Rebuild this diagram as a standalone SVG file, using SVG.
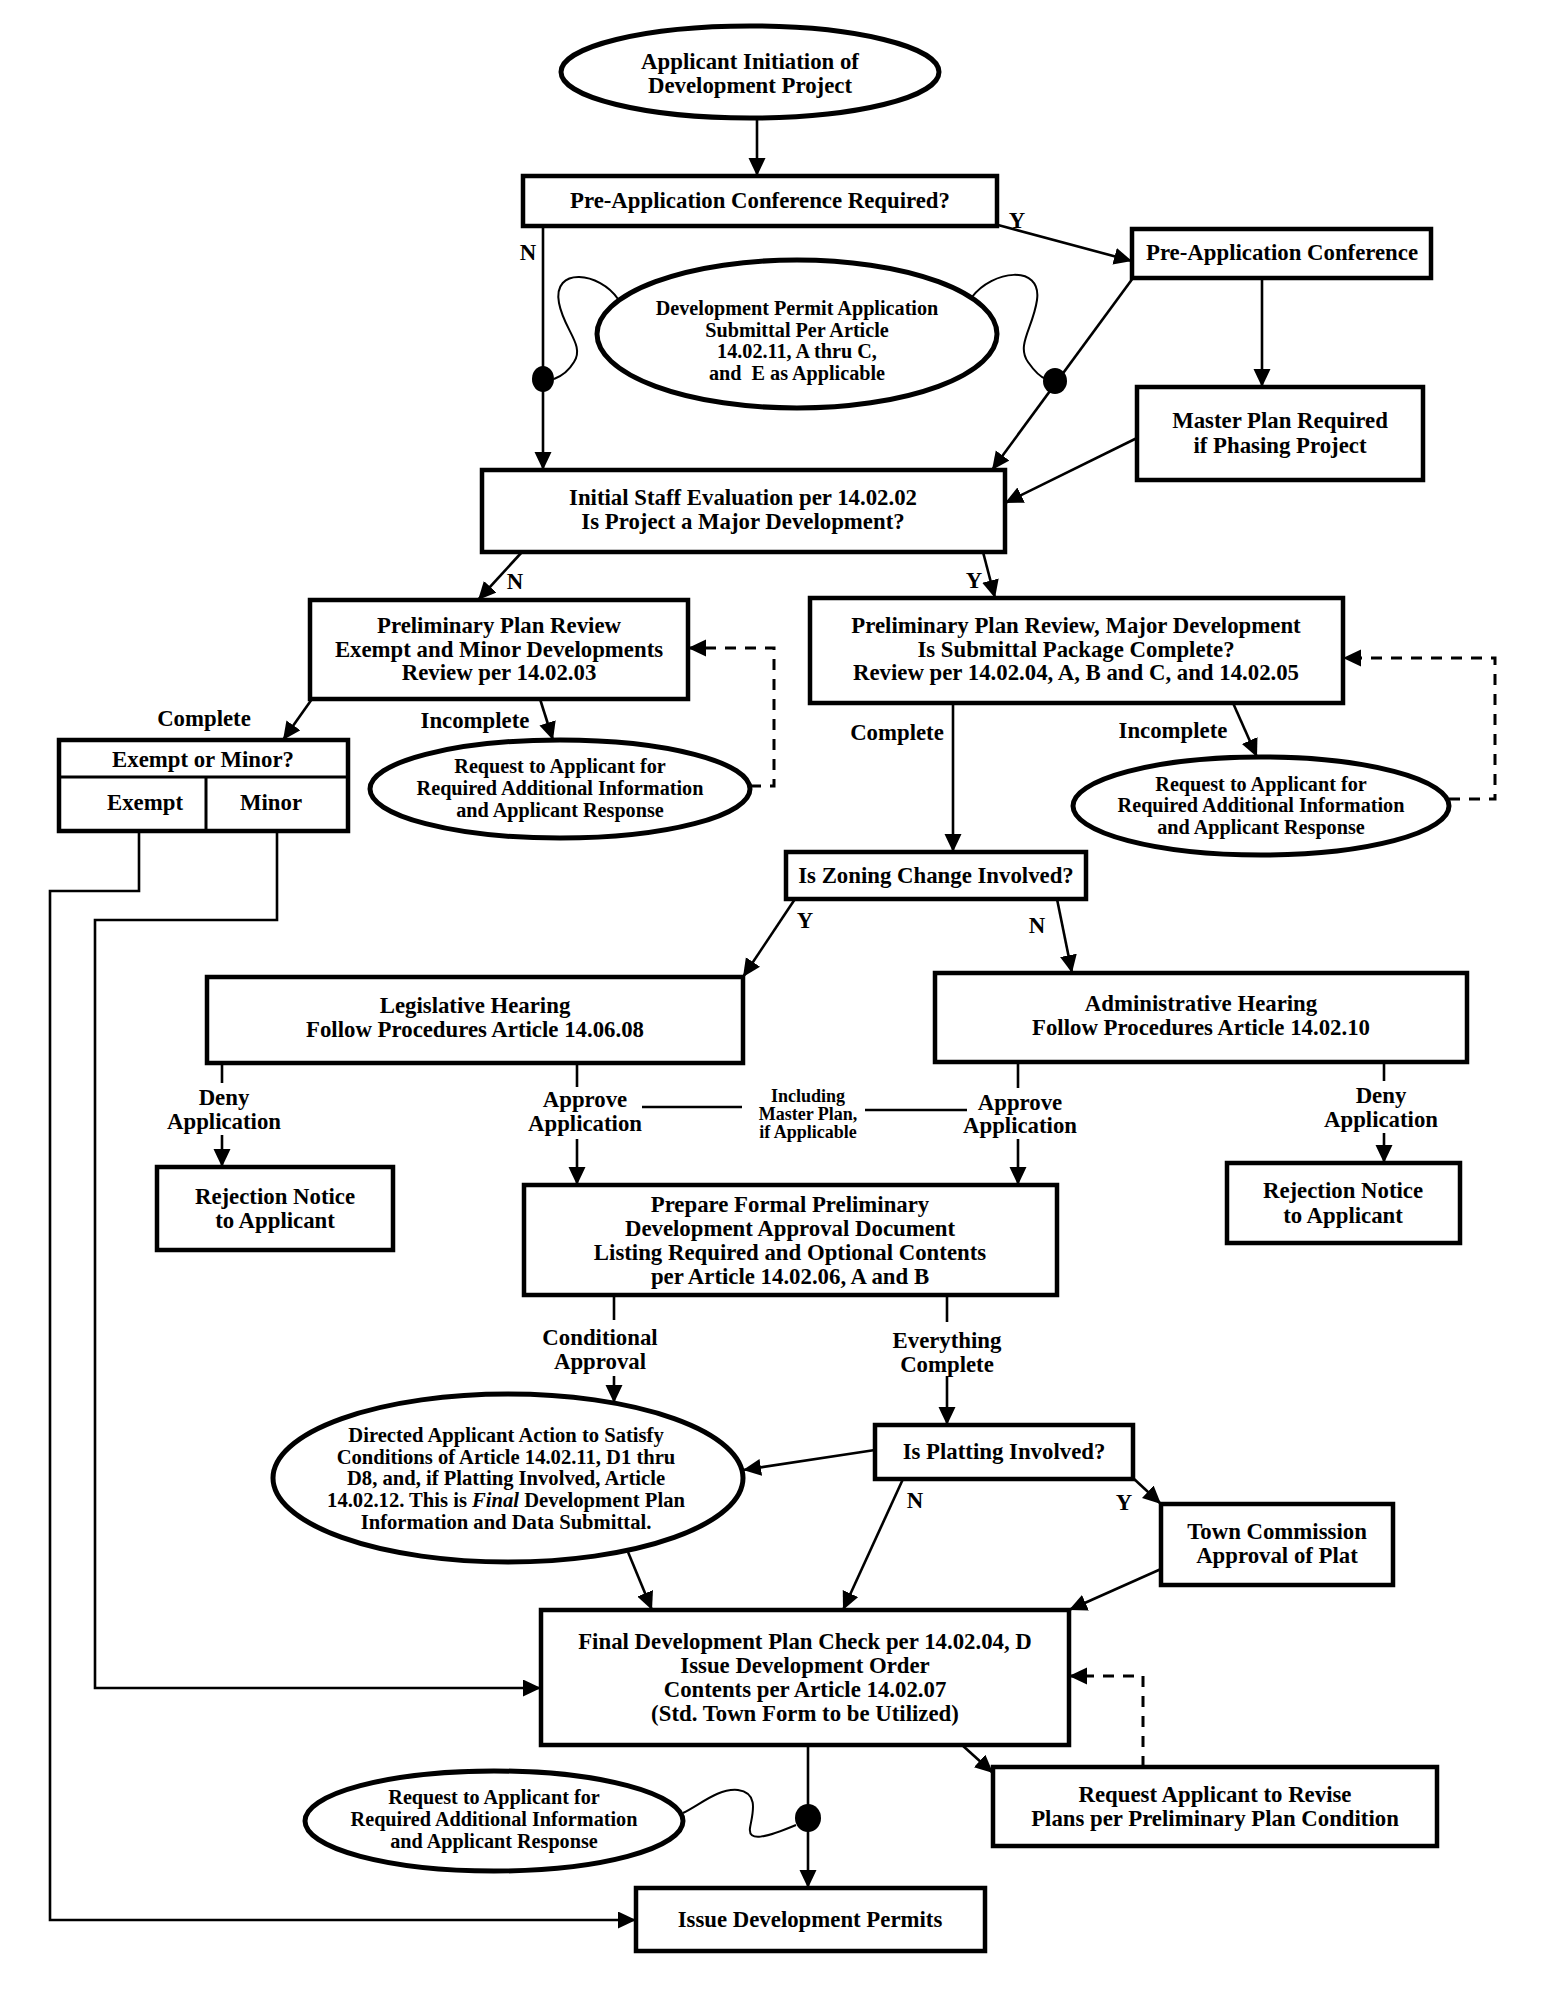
<svg xmlns="http://www.w3.org/2000/svg" width="1551" height="2000" viewBox="0 0 1551 2000">
<style>
text{font-family:"Liberation Serif","Times New Roman",serif;font-weight:bold;fill:#000;text-anchor:middle;dominant-baseline:central}
.t{font-size:22.8px}
.e{font-size:20.2px}
.d{font-size:20.6px}
.s{font-size:18px}
.box{fill:#fff;stroke:#000;stroke-width:4.5}
.ell{fill:#fff;stroke:#000;stroke-width:5}
.thin{fill:none;stroke:#000;stroke-width:2}
.c{fill:none;stroke:#000;stroke-width:2.6}
.ca{fill:none;stroke:#000;stroke-width:2.6;marker-end:url(#ah)}
.dash{fill:none;stroke:#000;stroke-width:3;stroke-dasharray:11 9;marker-end:url(#ah)}
.dot{fill:#000}
</style>
<defs>
<marker id="ah" markerUnits="userSpaceOnUse" markerWidth="21" markerHeight="19" refX="18" refY="8.5" orient="auto">
<path d="M0,0 L18,8.5 L0,17 z" fill="#000"/>
</marker>
</defs>
<rect x="0" y="0" width="1551" height="2000" fill="#fff"/>

<g id="connectors">
<path class="ca" d="M757,118 L757,176"/>
<path class="ca" d="M543,226 L543,470"/>
<path class="ca" d="M998,225 L1132,261"/>
<path class="ca" d="M1262,278 L1262,387"/>
<path class="ca" d="M1133,278 L992,470"/>
<path class="ca" d="M1137,438 L1005,503"/>
<path class="ca" d="M522,552 L478,600"/>
<path class="ca" d="M983,552 L995,598"/>
<path class="dash" d="M750,786 L774,786 L774,648 L688,648"/>
<path class="dash" d="M1449,799 L1495,799 L1495,658 L1343,658"/>
<path class="ca" d="M312,699 L283,740"/>
<path class="ca" d="M540,699 L553,740"/>
<path class="ca" d="M953,703 L953,852"/>
<path class="ca" d="M1233,703 L1257,757"/>
<path class="ca" d="M139,831 L139,891 L50,891 L50,1920 L636,1920"/>
<path class="ca" d="M277,831 L277,920 L95,920 L95,1688 L541,1688"/>
<path class="ca" d="M795,899 L743,977"/>
<path class="ca" d="M1057,899 L1072,973"/>
<path class="c" d="M222,1063 L222,1083"/>
<path class="ca" d="M222,1135 L222,1167"/>
<path class="c" d="M577,1063 L577,1087"/>
<path class="ca" d="M577,1139 L577,1185"/>
<path class="c" d="M1018,1062 L1018,1088"/>
<path class="ca" d="M1018,1139 L1018,1185"/>
<path class="c" d="M1384,1062 L1384,1081"/>
<path class="ca" d="M1384,1133 L1384,1163"/>
<path class="c" d="M642,1107 L742,1107"/>
<path class="c" d="M865,1110 L967,1110"/>
<path class="c" d="M614,1295 L614,1320"/>
<path class="ca" d="M614,1376 L614,1403"/>
<path class="c" d="M947,1295 L947,1322"/>
<path class="ca" d="M947,1376 L947,1425"/>
<path class="ca" d="M875,1450 L743,1470"/>
<path class="ca" d="M628,1552 L652,1610"/>
<path class="ca" d="M903,1479 L843,1610"/>
<path class="ca" d="M1133,1478 L1161,1504"/>
<path class="ca" d="M1161,1569 L1069,1610"/>
<path class="ca" d="M962,1745 L993,1773"/>
<path class="dash" d="M1143,1767 L1143,1676 L1069,1676"/>
<path class="ca" d="M808,1745 L808,1888"/>
<path class="thin" d="M618,299 C600,272 552,266 559,303 C564,330 585,345 574,362 C568,372 562,376 554,379"/>
<path class="thin" d="M972,297 C992,270 1042,264 1037,300 C1033,328 1016,345 1028,362 C1035,372 1040,377 1046,379"/>
<path class="thin" d="M683,1813 C700,1805 718,1788 738,1790 C760,1793 752,1815 750,1828 C748,1842 765,1838 796,1825"/>
<ellipse class="dot" cx="543" cy="379" rx="11" ry="13"/>
<ellipse class="dot" cx="1055" cy="381" rx="12" ry="13"/>
<ellipse class="dot" cx="808" cy="1818" rx="13" ry="14"/>
<text class="t" x="528" y="252">N</text>
<text class="t" x="1017" y="220">Y</text>
<text class="t" x="515" y="581">N</text>
<text class="t" x="974" y="580">Y</text>
<text class="t" x="204" y="718">Complete</text>
<text class="t" x="475" y="720">Incomplete</text>
<text class="t" x="897" y="732">Complete</text>
<text class="t" x="1173" y="730">Incomplete</text>
<text class="t" x="805" y="920">Y</text>
<text class="t" x="1037" y="925">N</text>
<text class="t" x="224" y="1097">Deny</text>
<text class="t" x="224" y="1121">Application</text>
<text class="t" x="585" y="1099">Approve</text>
<text class="t" x="585" y="1123">Application</text>
<text class="s" x="808" y="1096">Including</text>
<text class="s" x="808" y="1114">Master Plan,</text>
<text class="s" x="808" y="1132">if Applicable</text>
<text class="t" x="1020" y="1102">Approve</text>
<text class="t" x="1020" y="1125">Application</text>
<text class="t" x="1381" y="1095">Deny</text>
<text class="t" x="1381" y="1119">Application</text>
<text class="t" x="600" y="1337">Conditional</text>
<text class="t" x="600" y="1361">Approval</text>
<text class="t" x="947" y="1340">Everything</text>
<text class="t" x="947" y="1364">Complete</text>
<text class="t" x="915" y="1500">N</text>
<text class="t" x="1124" y="1502">Y</text>
</g>

<g id="n_start">
<ellipse class="ell" cx="750" cy="72" rx="189" ry="46"/>
<text class="t" x="750" y="61">Applicant Initiation of</text>
<text class="t" x="750" y="85">Development Project</text>
</g>
<g id="n_preq">
<rect class="box" x="523" y="176" width="474" height="50"/>
<text class="t" x="760" y="200">Pre-Application Conference Required?</text>
</g>
<g id="n_preconf">
<rect class="box" x="1132" y="229" width="299" height="49"/>
<text class="t" x="1282" y="252">Pre-Application Conference</text>
</g>
<g id="n_devpermit">
<ellipse class="ell" cx="797" cy="334" rx="200" ry="74"/>
<text class="e" x="797" y="308">Development Permit Application</text>
<text class="e" x="797" y="330">Submittal Per Article</text>
<text class="e" x="797" y="351">14.02.11, A thru C,</text>
<text class="e" x="797" y="373" xml:space="preserve">and  E as Applicable</text>
</g>
<g id="n_master">
<rect class="box" x="1137" y="387" width="286" height="93"/>
<text class="t" x="1280" y="420">Master Plan Required</text>
<text class="t" x="1280" y="445">if Phasing Project</text>
</g>
<g id="n_initial">
<rect class="box" x="482" y="470" width="523" height="82"/>
<text class="t" x="743" y="497">Initial Staff Evaluation per 14.02.02</text>
<text class="t" x="743" y="521">Is Project a Major Development?</text>
</g>
<g id="n_prelim_minor">
<rect class="box" x="310" y="600" width="378" height="99"/>
<text class="t" x="499" y="625">Preliminary Plan Review</text>
<text class="t" x="499" y="649">Exempt and Minor Developments</text>
<text class="t" x="499" y="672">Review per 14.02.03</text>
</g>
<g id="n_prelim_major">
<rect class="box" x="810" y="598" width="533" height="105"/>
<text class="t" x="1076" y="625">Preliminary Plan Review, Major Development</text>
<text class="t" x="1076" y="649">Is Submittal Package Complete?</text>
<text class="t" x="1076" y="672">Review per 14.02.04, A, B and C, and 14.02.05</text>
</g>
<g id="n_req_minor">
<ellipse class="ell" cx="560" cy="789" rx="190" ry="49"/>
<text class="e" x="560" y="766">Request to Applicant for</text>
<text class="e" x="560" y="788">Required Additional Information</text>
<text class="e" x="560" y="810">and Applicant Response</text>
</g>
<g id="n_req_major">
<ellipse class="ell" cx="1261" cy="806" rx="188" ry="49"/>
<text class="e" x="1261" y="784">Request to Applicant for</text>
<text class="e" x="1261" y="805">Required Additional Information</text>
<text class="e" x="1261" y="827">and Applicant Response</text>
</g>
<g id="n_exmin">
<rect class="box" x="59" y="740" width="289" height="91"/>
<path d="M59,777 L348,777 M206,777 L206,831" stroke="#000" stroke-width="3" fill="none"/>
<text class="t" x="203" y="759">Exempt or Minor?</text>
<text class="t" x="145" y="802">Exempt</text>
<text class="t" x="271" y="802">Minor</text>
</g>
<g id="n_zoning">
<rect class="box" x="786" y="852" width="300" height="47"/>
<text class="t" x="936" y="875">Is Zoning Change Involved?</text>
</g>
<g id="n_legis">
<rect class="box" x="207" y="977" width="536" height="86"/>
<text class="t" x="475" y="1005">Legislative Hearing</text>
<text class="t" x="475" y="1029">Follow Procedures Article 14.06.08</text>
</g>
<g id="n_admin">
<rect class="box" x="935" y="973" width="532" height="89"/>
<text class="t" x="1201" y="1003">Administrative Hearing</text>
<text class="t" x="1201" y="1027">Follow Procedures Article 14.02.10</text>
</g>
<g id="n_rej1">
<rect class="box" x="157" y="1167" width="236" height="83"/>
<text class="t" x="275" y="1196">Rejection Notice</text>
<text class="t" x="275" y="1220">to Applicant</text>
</g>
<g id="n_rej2">
<rect class="box" x="1227" y="1163" width="233" height="80"/>
<text class="t" x="1343" y="1190">Rejection Notice</text>
<text class="t" x="1343" y="1215">to Applicant</text>
</g>
<g id="n_prepare">
<rect class="box" x="524" y="1185" width="533" height="110"/>
<text class="t" x="790" y="1204">Prepare Formal Preliminary</text>
<text class="t" x="790" y="1228">Development Approval Document</text>
<text class="t" x="790" y="1252">Listing Required and Optional Contents</text>
<text class="t" x="790" y="1276">per Article 14.02.06, A and B</text>
</g>
<g id="n_directed">
<ellipse class="ell" cx="508" cy="1478" rx="235" ry="84"/>
<text class="d" x="506" y="1435">Directed Applicant Action to Satisfy</text>
<text class="d" x="506" y="1457">Conditions of Article 14.02.11, D1 thru</text>
<text class="d" x="506" y="1478">D8, and, if Platting Involved, Article</text>
<text class="d" x="506" y="1500">14.02.12. This is <tspan font-style="italic">Final</tspan> Development Plan</text>
<text class="d" x="506" y="1522">Information and Data Submittal.</text>
</g>
<g id="n_platting">
<rect class="box" x="875" y="1425" width="258" height="54"/>
<text class="t" x="1004" y="1451">Is Platting Involved?</text>
</g>
<g id="n_town">
<rect class="box" x="1161" y="1504" width="232" height="81"/>
<text class="t" x="1277" y="1531">Town Commission</text>
<text class="t" x="1277" y="1555">Approval of Plat</text>
</g>
<g id="n_final">
<rect class="box" x="541" y="1610" width="528" height="135"/>
<text class="t" x="805" y="1641">Final Development Plan Check per 14.02.04, D</text>
<text class="t" x="805" y="1665">Issue Development Order</text>
<text class="t" x="805" y="1689">Contents per Article 14.02.07</text>
<text class="t" x="805" y="1713">(Std. Town Form to be Utilized)</text>
</g>
<g id="n_revise">
<rect class="box" x="993" y="1767" width="444" height="79"/>
<text class="t" x="1215" y="1794">Request Applicant to Revise</text>
<text class="t" x="1215" y="1818">Plans per Preliminary Plan Condition</text>
</g>
<g id="n_req_final">
<ellipse class="ell" cx="494" cy="1821" rx="189" ry="50"/>
<text class="e" x="494" y="1797">Request to Applicant for</text>
<text class="e" x="494" y="1819">Required Additional Information</text>
<text class="e" x="494" y="1841">and Applicant Response</text>
</g>
<g id="n_permits">
<rect class="box" x="636" y="1888" width="349" height="63"/>
<text class="t" x="810" y="1919">Issue Development Permits</text>
</g>
</svg>
